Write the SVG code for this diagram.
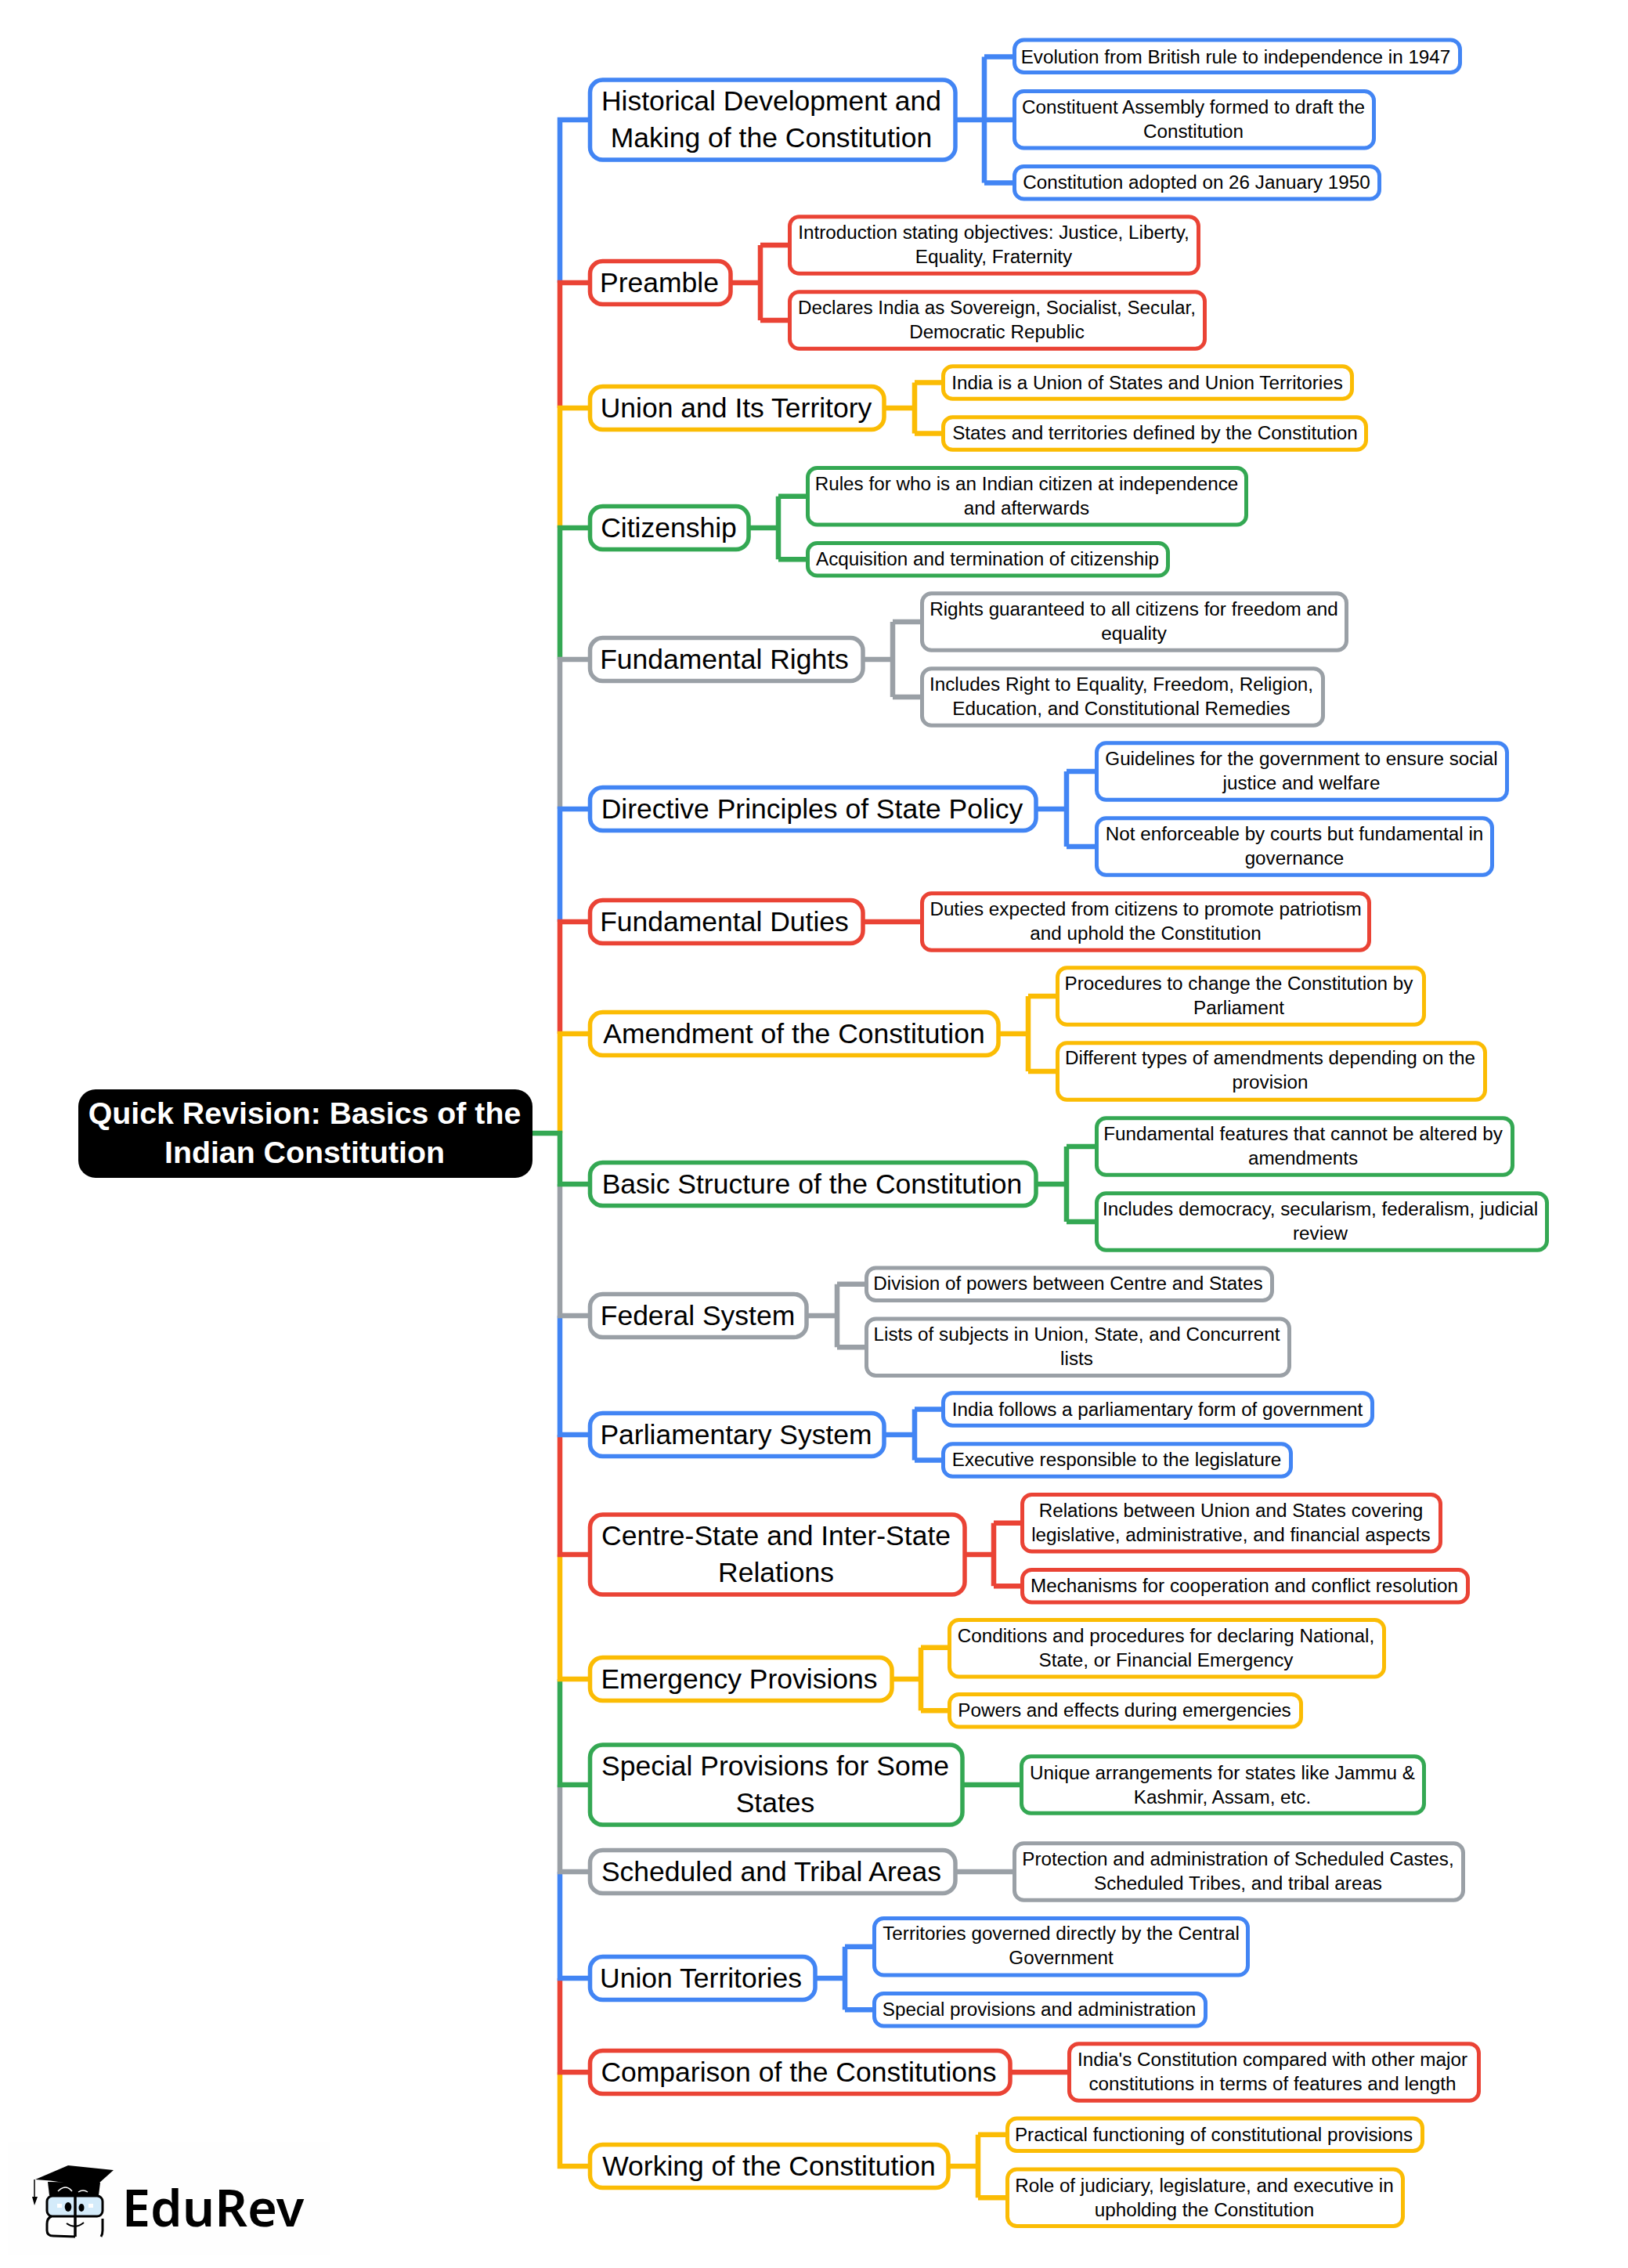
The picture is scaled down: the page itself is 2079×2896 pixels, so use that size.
<svg xmlns="http://www.w3.org/2000/svg" width="2079" height="2896" viewBox="0 0 2079 2896">
<style>
text{font-family:"Liberation Sans",Arial,sans-serif;text-anchor:middle;fill:#000}
.m text{font-size:35.500px;transform:translateY(0.500px)}
.l text{font-size:24.250px}
.m rect,.l rect{fill:#fff}
.m rect{stroke-width:5.500;rx:16px;ry:16px}
.l rect{stroke-width:5;rx:12px;ry:12px}
.c path{fill:none;stroke-width:6.500;stroke-linejoin:miter}
.b rect{stroke:#4285F4}.r rect{stroke:#EA4335}.y rect{stroke:#FBBC04}.g rect{stroke:#34A853}.k rect{stroke:#9AA0A6}
path.b{stroke:#4285F4}path.r{stroke:#EA4335}path.y{stroke:#FBBC04}path.g{stroke:#34A853}path.k{stroke:#9AA0A6}
</style>
<rect width="2079" height="2896" fill="#fff"/>
<g id="connectors" class="c">
<path class="y" d="M715 2646V2766H753"/>
<path class="r" d="M715 2526V2646H753"/>
<path class="b" d="M715 2390V2526H753"/>
<path class="k" d="M715 2279V2390H753"/>
<path class="g" d="M715 2144V2279H753"/>
<path class="y" d="M715 1985V2144H753"/>
<path class="r" d="M715 1832V1985H753"/>
<path class="b" d="M715 1680V1832H753"/>
<path class="k" d="M715 1512V1680H753"/>
<path class="b" d="M753 153H715V361"/>
<path class="r" d="M753 361H715V521"/>
<path class="y" d="M753 521H715V674"/>
<path class="g" d="M753 674H715V842"/>
<path class="k" d="M753 842H715V1033"/>
<path class="b" d="M753 1033H715V1177"/>
<path class="r" d="M753 1177H715V1320"/>
<path class="y" d="M753 1320H715V1447"/>
<path class="g" d="M680 1447H715V1512H753"/>
<path class="b" d="M1219 153H1297M1257 72.500H1297M1257 233.500H1297M1257 72.500V233.500"/>
<path class="r" d="M932 361H971M971 313H1010M971 409H1010M971 313V409"/>
<path class="y" d="M1128 521H1168M1168 488.500H1206M1168 553.500H1206M1168 488.500V553.500"/>
<path class="g" d="M955 674H994M994 633.750H1033M994 714.250H1033M994 633.750V714.250"/>
<path class="k" d="M1101 842H1140M1140 794H1179M1140 890H1179M1140 794V890"/>
<path class="b" d="M1322 1033H1362M1362 985H1402M1362 1081H1402M1362 985V1081"/>
<path class="r" d="M1101 1177H1179"/>
<path class="y" d="M1274 1320H1313M1313 1272H1352M1313 1368H1352M1313 1272V1368"/>
<path class="g" d="M1322 1512H1362M1362 1464H1402M1362 1560H1402M1362 1464V1560"/>
<path class="k" d="M1029 1680H1069M1069 1639.750H1108M1069 1720.250H1108M1069 1639.750V1720.250"/>
<path class="b" d="M1128 1832H1168M1168 1799.500H1206M1168 1864.500H1206M1168 1799.500V1864.500"/>
<path class="r" d="M1232 1985H1269M1269 1944.750H1307M1269 2025.250H1307M1269 1944.750V2025.250"/>
<path class="y" d="M1138 2144H1176M1176 2103.750H1214M1176 2184.250H1214M1176 2103.750V2184.250"/>
<path class="g" d="M1228 2279H1306"/>
<path class="k" d="M1219 2390H1297"/>
<path class="b" d="M1040 2526H1079M1079 2485.750H1118M1079 2566.250H1118M1079 2485.750V2566.250"/>
<path class="r" d="M1289 2646H1367"/>
<path class="y" d="M1210 2766H1249M1249 2725.750H1288M1249 2806.250H1288M1249 2725.750V2806.250"/>
</g>
<g id="root"><rect x="100" y="1391" width="580" height="113" rx="22" fill="#000"/>
<text x="389" y="1435" font-size="39.300" font-weight="700" style="fill:#fff">Quick Revision: Basics of the</text>
<text x="389" y="1485" font-size="39.300" font-weight="700" style="fill:#fff">Indian Constitution</text></g>

<g id="n1" class="m b"><rect x="753.500" y="102" width="466.500" height="102"/><text x="985" y="140">Historical Development and</text><text x="985" y="187">Making of the Constitution</text></g>
<g id="n1a" class="l b"><rect x="1295.500" y="51" width="569" height="41.500"/><text x="1578" y="81">Evolution from British rule to independence in 1947</text></g>
<g id="n1b" class="l b"><rect x="1295.500" y="116.500" width="459" height="72.500"/><text x="1524" y="145">Constituent Assembly formed to draft the</text><text x="1524" y="176">Constitution</text></g>
<g id="n1c" class="l b"><rect x="1295.500" y="212.500" width="466" height="41.500"/><text x="1528" y="241">Constitution adopted on 26 January 1950</text></g>

<g id="n2" class="m r"><rect x="753.500" y="333.500" width="179.500" height="55"/><text x="842" y="372">Preamble</text></g>
<g id="n2a" class="l r"><rect x="1008.500" y="276.750" width="522" height="72.500"/><text x="1269" y="305">Introduction stating objectives: Justice, Liberty,</text><text x="1269" y="336">Equality, Fraternity</text></g>
<g id="n2b" class="l r"><rect x="1008.500" y="372.750" width="530" height="72.500"/><text x="1273" y="401">Declares India as Sovereign, Socialist, Secular,</text><text x="1273" y="432">Democratic Republic</text></g>

<g id="n3" class="m y"><rect x="753.500" y="493.500" width="375.500" height="55"/><text x="940" y="532">Union and Its Territory</text></g>
<g id="n3a" class="l y"><rect x="1204.500" y="467.750" width="522" height="41.500"/><text x="1465" y="497">India is a Union of States and Union Territories</text></g>
<g id="n3b" class="l y"><rect x="1204.500" y="532.750" width="540" height="41.500"/><text x="1475" y="561">States and territories defined by the Constitution</text></g>

<g id="n4" class="m g"><rect x="753.500" y="646.500" width="202.500" height="55"/><text x="854" y="685">Citizenship</text></g>
<g id="n4a" class="l g"><rect x="1031.500" y="597.500" width="560" height="72.500"/><text x="1311" y="625.500">Rules for who is an Indian citizen at independence</text><text x="1311" y="656.500">and afterwards</text></g>
<g id="n4b" class="l g"><rect x="1031.500" y="693.500" width="460" height="41.500"/><text x="1261" y="722">Acquisition and termination of citizenship</text></g>

<g id="n5" class="m k"><rect x="753.500" y="814.500" width="348.500" height="55"/><text x="925" y="853">Fundamental Rights</text></g>
<g id="n5a" class="l k"><rect x="1177.500" y="757.750" width="542" height="72.500"/><text x="1448" y="786">Rights guaranteed to all citizens for freedom and</text><text x="1448" y="817">equality</text></g>
<g id="n5b" class="l k"><rect x="1177.500" y="853.750" width="512" height="72.500"/><text x="1432" y="882">Includes Right to Equality, Freedom, Religion,</text><text x="1432" y="913">Education, and Constitutional Remedies</text></g>

<g id="n6" class="m b"><rect x="753.500" y="1005.500" width="569.500" height="55"/><text x="1037" y="1044">Directive Principles of State Policy</text></g>
<g id="n6a" class="l b"><rect x="1400.500" y="948.750" width="524" height="72.500"/><text x="1662" y="977">Guidelines for the government to ensure social</text><text x="1662" y="1008">justice and welfare</text></g>
<g id="n6b" class="l b"><rect x="1400.500" y="1044.750" width="505" height="72.500"/><text x="1653" y="1073">Not enforceable by courts but fundamental in</text><text x="1653" y="1104">governance</text></g>

<g id="n7" class="m r"><rect x="753.500" y="1149.500" width="348.500" height="55"/><text x="925" y="1188">Fundamental Duties</text></g>
<g id="n7a" class="l r"><rect x="1177.500" y="1140.750" width="571" height="72.500"/><text x="1463" y="1169">Duties expected from citizens to promote patriotism</text><text x="1463" y="1200">and uphold the Constitution</text></g>

<g id="n8" class="m y"><rect x="753.500" y="1292.500" width="521.500" height="55"/><text x="1014" y="1331">Amendment of the Constitution</text></g>
<g id="n8a" class="l y"><rect x="1350.500" y="1235.750" width="468" height="72.500"/><text x="1582" y="1264">Procedures to change the Constitution by</text><text x="1582" y="1295">Parliament</text></g>
<g id="n8b" class="l y"><rect x="1350.500" y="1331.750" width="546" height="72.500"/><text x="1622" y="1359">Different types of amendments depending on the</text><text x="1622" y="1390">provision</text></g>

<g id="n9" class="m g"><rect x="753.500" y="1484.500" width="569.500" height="55"/><text x="1037" y="1523">Basic Structure of the Constitution</text></g>
<g id="n9a" class="l g"><rect x="1400.500" y="1427.750" width="531" height="72.500"/><text x="1664" y="1456">Fundamental features that cannot be altered by</text><text x="1664" y="1487">amendments</text></g>
<g id="n9b" class="l g"><rect x="1400.500" y="1523.750" width="575" height="72.500"/><text x="1686" y="1552">Includes democracy, secularism, federalism, judicial</text><text x="1686" y="1583">review</text></g>

<g id="n10" class="m k"><rect x="753.500" y="1652.500" width="276.500" height="55"/><text x="891" y="1691">Federal System</text></g>
<g id="n10a" class="l k"><rect x="1106.500" y="1619" width="518" height="41.500"/><text x="1364" y="1647">Division of powers between Centre and States</text></g>
<g id="n10b" class="l k"><rect x="1106.500" y="1684" width="540" height="72.500"/><text x="1375" y="1712">Lists of subjects in Union, State, and Concurrent</text><text x="1375" y="1743">lists</text></g>

<g id="n11" class="m b"><rect x="753.500" y="1804.500" width="375.500" height="55"/><text x="940" y="1843">Parliamentary System</text></g>
<g id="n11a" class="l b"><rect x="1204.500" y="1778.750" width="548" height="41.500"/><text x="1478" y="1808">India follows a parliamentary form of government</text></g>
<g id="n11b" class="l b"><rect x="1204.500" y="1843.750" width="444" height="41.500"/><text x="1426" y="1872">Executive responsible to the legislature</text></g>

<g id="n12" class="m r"><rect x="753.500" y="1934" width="478.500" height="102"/><text x="991" y="1972">Centre-State and Inter-State</text><text x="991" y="2019">Relations</text></g>
<g id="n12a" class="l r"><rect x="1305.500" y="1908.500" width="534" height="72.500"/><text x="1572" y="1936.500">Relations between Union and States covering</text><text x="1572" y="1967.500">legislative, administrative, and financial aspects</text></g>
<g id="n12b" class="l r"><rect x="1305.500" y="2004.500" width="569" height="41.500"/><text x="1589" y="2032.500">Mechanisms for cooperation and conflict resolution</text></g>

<g id="n13" class="m y"><rect x="753.500" y="2116.500" width="385.500" height="55"/><text x="944" y="2155">Emergency Provisions</text></g>
<g id="n13a" class="l y"><rect x="1212.500" y="2068.500" width="555" height="72.500"/><text x="1489" y="2097">Conditions and procedures for declaring National,</text><text x="1489" y="2128">State, or Financial Emergency</text></g>
<g id="n13b" class="l y"><rect x="1212.500" y="2163.500" width="449" height="41.500"/><text x="1436" y="2192">Powers and effects during emergencies</text></g>

<g id="n14" class="m g"><rect x="753.500" y="2228" width="475.500" height="102"/><text x="990" y="2266">Special Provisions for Some</text><text x="990" y="2313">States</text></g>
<g id="n14a" class="l g"><rect x="1304.500" y="2242.750" width="514" height="72.500"/><text x="1561" y="2272">Unique arrangements for states like Jammu &amp;</text><text x="1561" y="2303">Kashmir, Assam, etc.</text></g>

<g id="n15" class="m k"><rect x="753.500" y="2362.500" width="466.500" height="55"/><text x="985" y="2401">Scheduled and Tribal Areas</text></g>
<g id="n15a" class="l k"><rect x="1295.500" y="2353.750" width="573" height="72.500"/><text x="1581" y="2382">Protection and administration of Scheduled Castes,</text><text x="1581" y="2413">Scheduled Tribes, and tribal areas</text></g>

<g id="n16" class="m b"><rect x="753.500" y="2498.500" width="287.500" height="55"/><text x="895" y="2537">Union Territories</text></g>
<g id="n16a" class="l b"><rect x="1116.500" y="2449.500" width="477" height="72.500"/><text x="1355" y="2477">Territories governed directly by the Central</text><text x="1355" y="2508">Government</text></g>
<g id="n16b" class="l b"><rect x="1116.500" y="2545.500" width="423" height="41.500"/><text x="1327" y="2574">Special provisions and administration</text></g>

<g id="n17" class="m r"><rect x="753.500" y="2618.500" width="536.500" height="55"/><text x="1020" y="2657">Comparison of the Constitutions</text></g>
<g id="n17a" class="l r"><rect x="1365.500" y="2609.750" width="523" height="72.500"/><text x="1625" y="2638">India's Constitution compared with other major</text><text x="1625" y="2669">constitutions in terms of features and length</text></g>

<g id="n18" class="m y"><rect x="753.500" y="2738.500" width="457.500" height="55"/><text x="982" y="2777">Working of the Constitution</text></g>
<g id="n18a" class="l y"><rect x="1286.500" y="2705" width="530" height="41.500"/><text x="1550" y="2734">Practical functioning of constitutional provisions</text></g>
<g id="n18b" class="l y"><rect x="1286.500" y="2770" width="505" height="72.500"/><text x="1538" y="2798.500">Role of judiciary, legislature, and executive in</text><text x="1538" y="2829.500">upholding the Constitution</text></g>

<g id="logo">
<rect x="10" y="2735" width="412" height="145" fill="#fefefe"/>
<path d="M61 2786L128 2787L126 2803H63Z" fill="#000"/>
<path d="M45 2783L87 2765L145 2771L117 2796Q85 2785 45 2783Z" fill="#000"/>
<path d="M74 2798Q84 2788 92 2798M100 2799Q106 2795 112 2799" fill="none" stroke="#fff" stroke-width="1.500"/>
<path d="M44 2783V2805" stroke="#000" stroke-width="1.500" fill="none"/>
<path d="M41 2805H48L44 2816Z" fill="#000"/>
<rect x="60" y="2804" width="71" height="26" rx="7" fill="#d4ebfa" stroke="#000" stroke-width="3"/>
<path d="M66 2830Q60 2832 60 2840V2848Q60 2855 68 2855L96 2856M131 2833V2848Q131 2853 129 2856" fill="none" stroke="#000" stroke-width="3"/>
<path d="M96 2803V2856" stroke="#000" stroke-width="3.500"/>
<ellipse cx="87" cy="2818" rx="4.300" ry="6"/><ellipse cx="104" cy="2819" rx="3.500" ry="5"/>
<rect x="73" y="2814" width="6" height="5" fill="#fff"/><rect x="113" y="2814" width="6" height="5" fill="#fff"/>
<path d="M85 2839Q96 2847 107 2838" fill="none" stroke="#000" stroke-width="2"/>
<text x="272" y="2843" style="font-family:'Noto Sans',sans-serif;font-size:65px;font-weight:600">EduRev</text>
</g>
</svg>
